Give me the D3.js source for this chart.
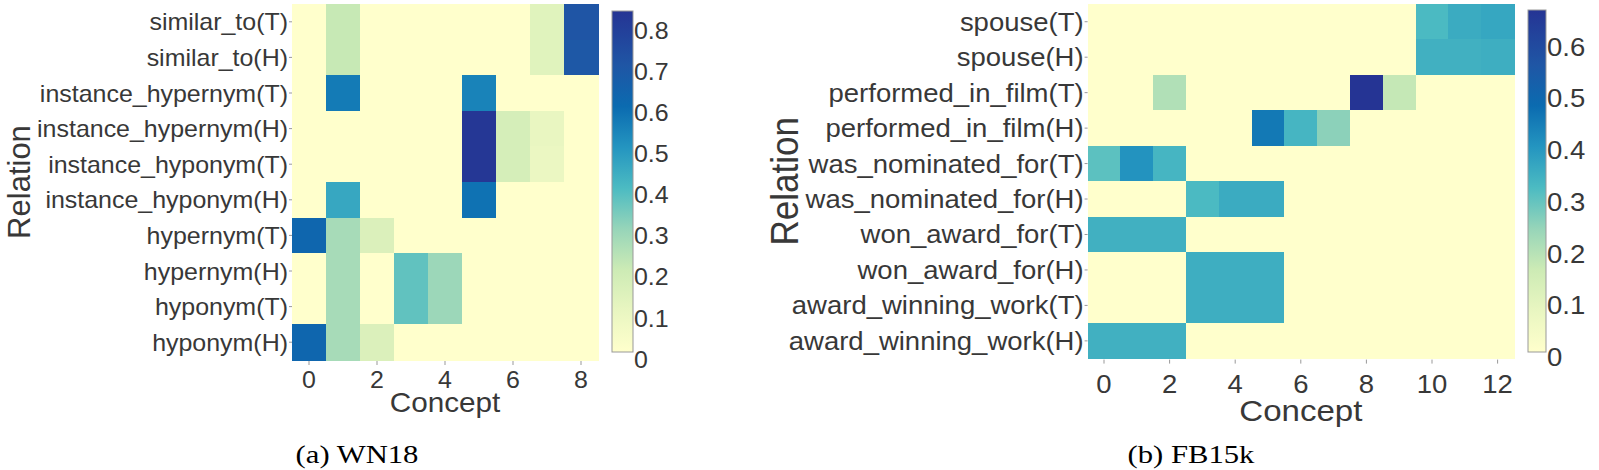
<!DOCTYPE html>
<html><head><meta charset="utf-8">
<script src="https://cdn.jsdelivr.net/npm/d3@7"></script>
<style>html,body{margin:0;padding:0;background:#fff;}svg{display:block;}</style>
</head><body>
<svg id="fig" width="1599" height="470"></svg>
<script>
// ---------- data ----------
const relationsWN = ["similar_to(T)","similar_to(H)","instance_hypernym(T)","instance_hypernym(H)","instance_hyponym(T)","instance_hyponym(H)","hypernym(T)","hypernym(H)","hyponym(T)","hyponym(H)"];
const conceptsWN = [0,1,2,3,4,5,6,7,8];
const valuesWN = [
  [0,0.21,0,0,0,0,0,0.13,0.70],
  [0,0.21,0,0,0,0,0,0.13,0.69],
  [0,0.56,0,0,0,0.54,0,0,0],
  [0,0,0,0,0,0.82,0.17,0.10,0],
  [0,0,0,0,0,0.82,0.17,0.09,0],
  [0,0.45,0,0,0,0.58,0,0,0],
  [0.62,0.27,0.15,0,0,0,0,0,0],
  [0,0.27,0,0.37,0.29,0,0,0,0],
  [0,0.27,0,0.37,0.29,0,0,0,0],
  [0.62,0.27,0.15,0,0,0,0,0,0]
];
const ticksXWN = [0,2,4,6,8];
const cbarTicksWN = [0,0.1,0.2,0.3,0.4,0.5,0.6,0.7,0.8];
const maxWN = 0.83;

const relationsFB = ["spouse(T)","spouse(H)","performed_in_film(T)","performed_in_film(H)","was_nominated_for(T)","was_nominated_for(H)","won_award_for(T)","won_award_for(H)","award_winning_work(T)","award_winning_work(H)"];
const conceptsFB = [0,1,2,3,4,5,6,7,8,9,10,11,12];
const valuesFB = [
  [0,0,0,0,0,0,0,0,0,0,0.32,0.35,0.36],
  [0,0,0,0,0,0,0,0,0,0,0.34,0.34,0.345],
  [0,0,0.20,0,0,0,0,0,0.66,0.17,0,0,0],
  [0,0,0,0,0,0.45,0.33,0.25,0,0,0,0,0],
  [0.30,0.40,0.33,0,0,0,0,0,0,0,0,0,0],
  [0,0,0,0.32,0.35,0.35,0,0,0,0,0,0,0],
  [0.34,0.34,0.34,0,0,0,0,0,0,0,0,0,0],
  [0,0,0,0.345,0.345,0.345,0,0,0,0,0,0,0],
  [0,0,0,0.345,0.345,0.345,0,0,0,0,0,0,0],
  [0.34,0.34,0.34,0,0,0,0,0,0,0,0,0,0]
];
const ticksXFB = [0,2,4,6,8,10,12];
const cbarTicksFB = [0,0.1,0.2,0.3,0.4,0.5,0.6];
const maxFB = 0.661;

const colorStops = [0,0.12,0.24,0.36,0.48,0.6,0.72,0.84,1.0];
const colorList = ["#ffffcc","#e9f6c1","#cdebb5","#97d5b9","#4cbbc2","#2495c0","#0b6bb0","#1f56a5","#253494"];

// ---------- drawing ----------
const svg = d3.select("#fig");
const TXT = "#383838";

function stretchedText(g, x, y, str, size, sx, anchor, rot, family, fill) {
  return g.append("text")
    .attr("transform", `translate(${x},${y}) scale(${sx},1)` + (rot ? ` rotate(${rot})` : ""))
    .attr("text-anchor", anchor)
    .attr("font-family", family || "Liberation Sans, Arial, sans-serif")
    .attr("font-size", size)
    .attr("fill", fill || TXT)
    .text(str);
}

function heatmap(cfg) {
  const g = svg.append("g");
  const x = d3.scaleBand().domain(cfg.concepts).range([cfg.x0, cfg.x1]).padding(0);
  const y = d3.scaleBand().domain(cfg.relations).range([cfg.y0, cfg.y1]).padding(0);
  const color = d3.scaleLinear().domain(colorStops.map(s => s * cfg.max)).range(colorList).clamp(true);

  cfg.values.forEach((row, i) => row.forEach((v, j) => {
    g.append("rect")
      .attr("x", x(cfg.concepts[j])).attr("y", y(cfg.relations[i]))
      .attr("width", x.bandwidth() + 0.5).attr("height", y.bandwidth() + 0.5)
      .attr("fill", color(v)).attr("shape-rendering", "crispEdges");
  }));

  // y labels + ticks
  cfg.relations.forEach(r => {
    const cy = y(r) + y.bandwidth() / 2;
    g.append("line").attr("x1", cfg.x0 - 3).attr("x2", cfg.x0).attr("y1", cy).attr("y2", cy)
      .attr("stroke", "#999").attr("stroke-width", 1);
    stretchedText(g, cfg.x0 - 4, cy + cfg.fs * 0.36, r, cfg.fs, cfg.sx, "end");
  });
  // x ticks
  cfg.ticksX.forEach(t => {
    const cx = x(t) + x.bandwidth() / 2;
    g.append("line").attr("x1", cx).attr("x2", cx).attr("y1", cfg.y1 + 1).attr("y2", cfg.y1 + 5)
      .attr("stroke", "#999").attr("stroke-width", 1);
    stretchedText(g, cx, cfg.tickY, String(t), cfg.fs, cfg.sx, "middle");
  });
  // axis titles
  stretchedText(g, (cfg.x0 + cfg.x1) / 2, cfg.conceptY, "Concept", cfg.titleFs, cfg.titleSx, "middle");
  stretchedText(g, cfg.relX, (cfg.y0 + cfg.y1) / 2, "Relation", cfg.relFs, cfg.relSx, "middle", -90);

  // colorbar
  const cy = d3.scaleLinear().domain([0, cfg.max]).range([cfg.cb.y1, cfg.cb.y0]);
  const gradId = "grad" + cfg.id;
  const grad = svg.append("defs").append("linearGradient").attr("id", gradId)
    .attr("x1", 0).attr("y1", 1).attr("x2", 0).attr("y2", 0);
  colorStops.forEach((s, i) => grad.append("stop").attr("offset", s).attr("stop-color", colorList[i]));
  g.append("rect").attr("x", cfg.cb.x0).attr("y", cfg.cb.y0)
    .attr("width", cfg.cb.x1 - cfg.cb.x0).attr("height", cfg.cb.y1 - cfg.cb.y0)
    .attr("fill", `url(#${gradId})`).attr("stroke", "#999").attr("stroke-width", 1);
  cfg.cbTicks.forEach(t => {
    stretchedText(g, cfg.cb.x1 + 1, cy(t) + cfg.cb.off + cfg.fs * 0.36, String(t), cfg.fs, cfg.sx, "start");
  });

  stretchedText(g, cfg.capX, 463, cfg.caption, 26, 1.18, "middle", null, "Liberation Serif, Times New Roman, serif", "#000");
}

heatmap({
  id: "WN", relations: relationsWN, concepts: conceptsWN, values: valuesWN, max: maxWN,
  ticksX: ticksXWN, cbTicks: cbarTicksWN,
  x0: 292, x1: 598, y0: 4, y1: 360, fs: 24, sx: 1.04, tickY: 388,
  titleFs: 27, titleSx: 1.1, conceptY: 412, relX: 30, relFs: 31, relSx: 1.0,
  cb: {x0: 612, x1: 633, y0: 11, y1: 352, off: 7},
  caption: "(a) WN18", capX: 357
});
heatmap({
  id: "FB", relations: relationsFB, concepts: conceptsFB, values: valuesFB, max: maxFB,
  ticksX: ticksXFB, cbTicks: cbarTicksFB,
  x0: 1087.6, x1: 1514, y0: 4, y1: 358.6, fs: 25, sx: 1.1, tickY: 393,
  titleFs: 29, titleSx: 1.14, conceptY: 421, relX: 798, relFs: 35, relSx: 1.1,
  cb: {x0: 1528, x1: 1546, y0: 10, y1: 352, off: 5},
  caption: "(b) FB15k", capX: 1191
});
</script>
</body></html>
